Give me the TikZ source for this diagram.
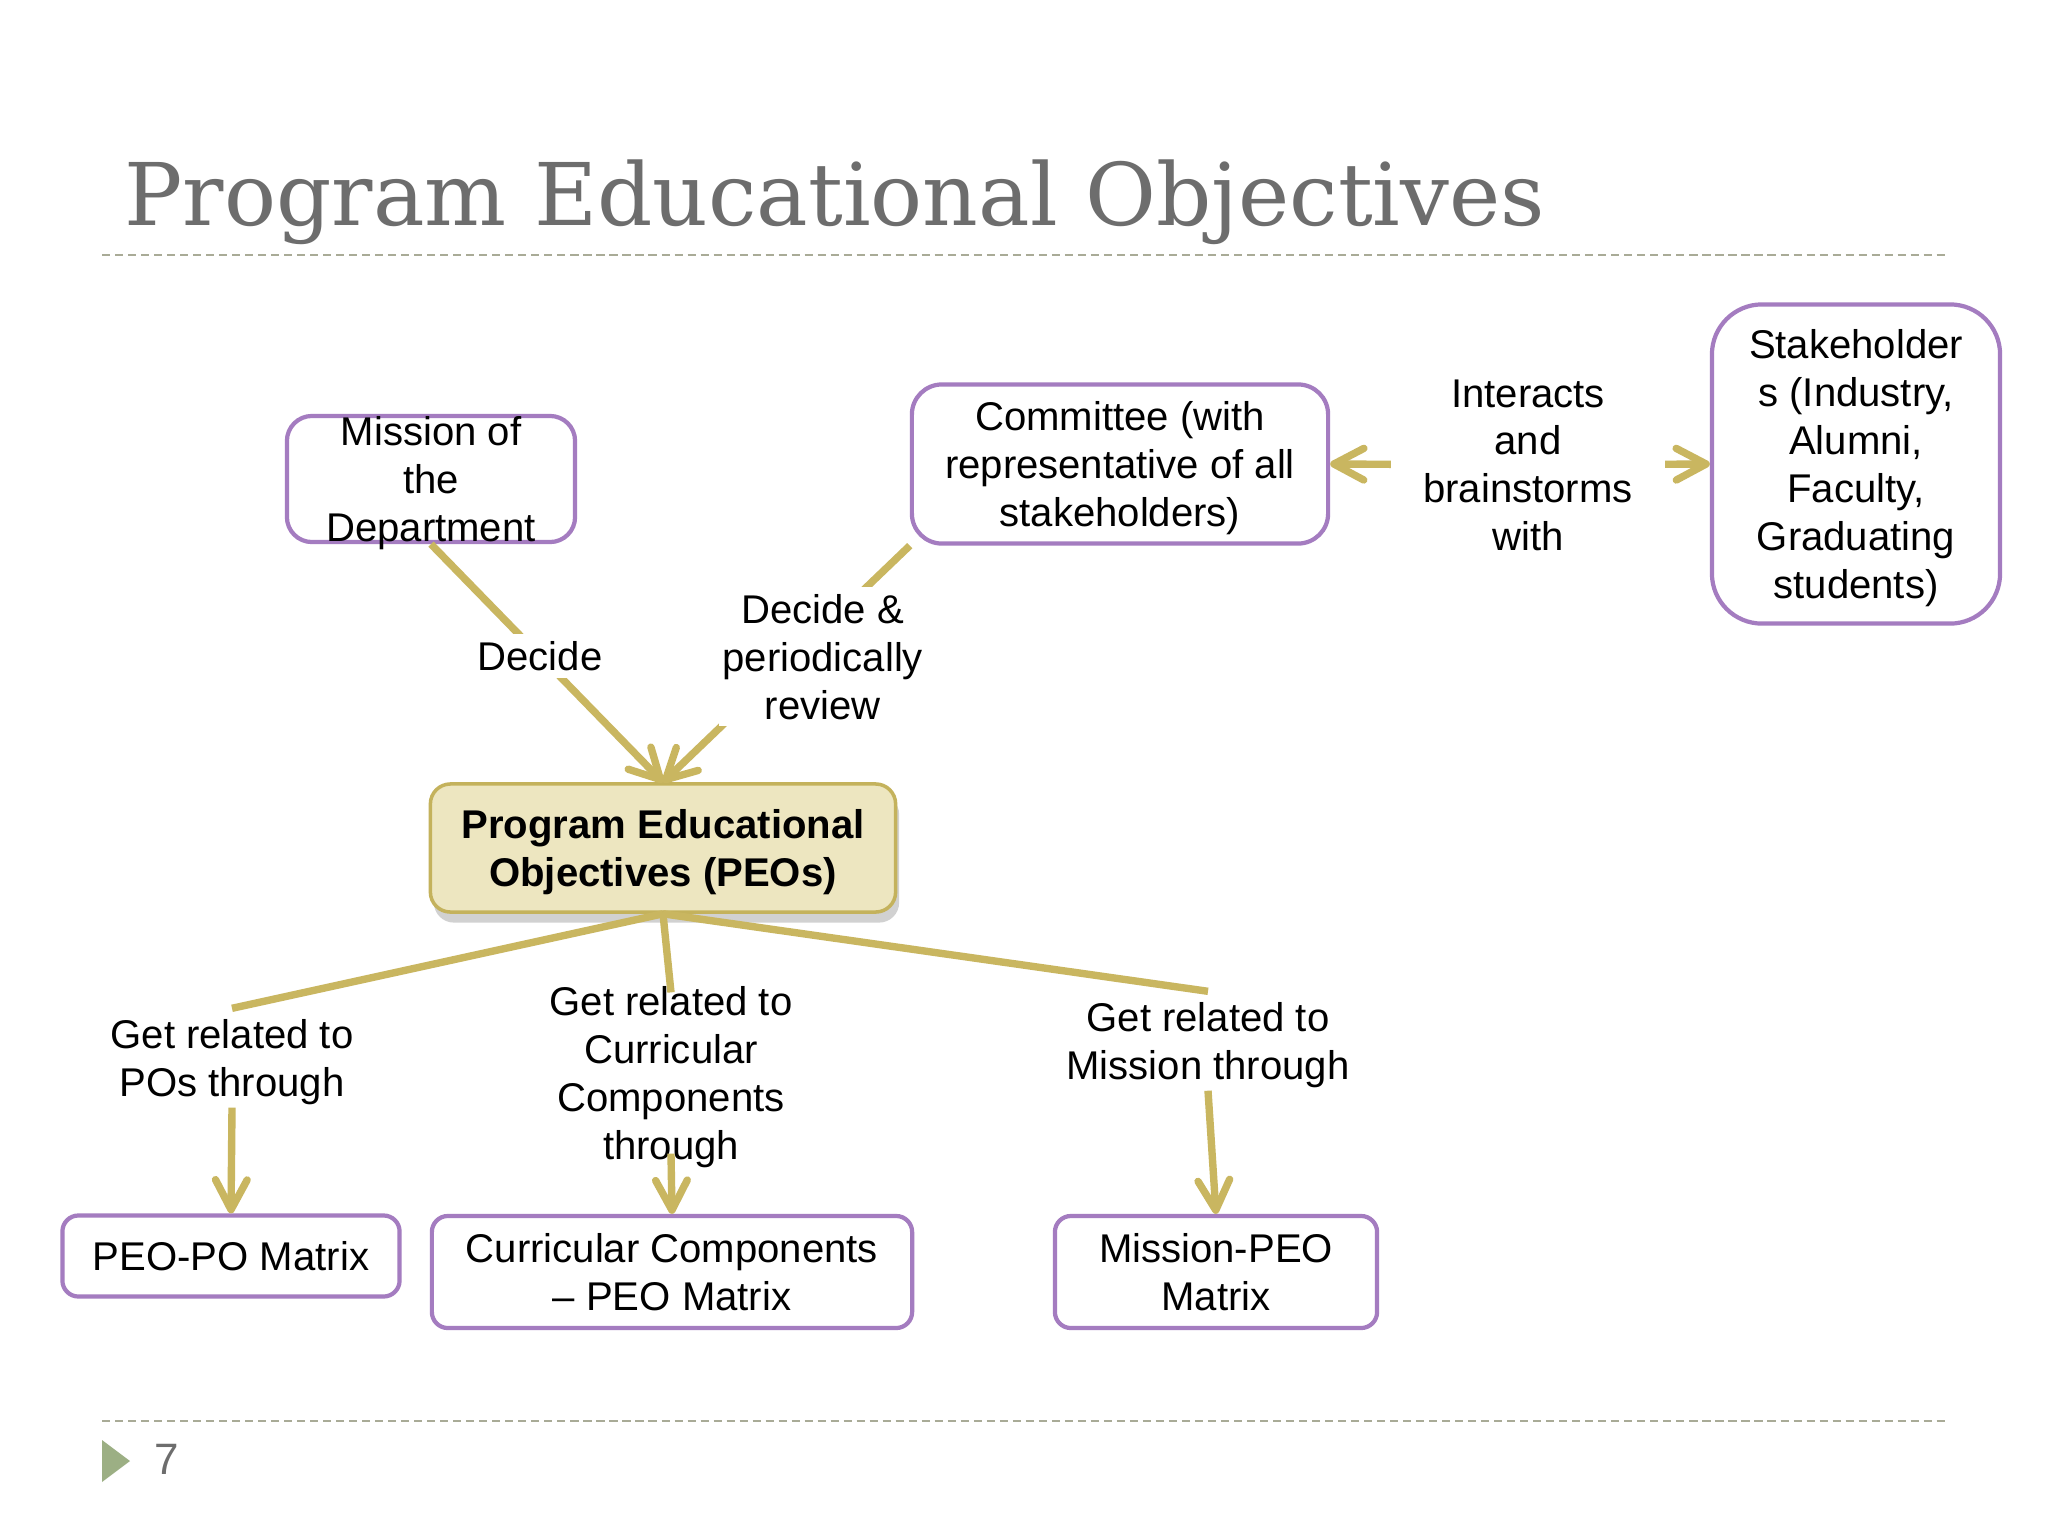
\documentclass[tikz,border=0pt]{standalone}
\usepackage{fontspec}
\setmainfont{Liberation Sans}
\newfontfamily\titlefont{DejaVu Serif}
\usepackage{tikz}
\usetikzlibrary{arrows.meta,shadows}
\definecolor{boxpurple}{RGB}{164,124,192}
\definecolor{linegold}{RGB}{201,182,96}
\definecolor{peofill}{RGB}{237,230,192}
\definecolor{peoedge}{RGB}{196,178,92}
\definecolor{titlegrey}{RGB}{109,109,109}
\definecolor{rulegrey}{RGB}{169,171,151}
\definecolor{bulletgreen}{RGB}{156,175,132}

\begin{document}
\begin{tikzpicture}[x=0.01cm, y=-0.01cm,
    font=\fontsize{11.4}{13.6}\selectfont,
    txt/.style={align=center, text depth=0pt},
    box/.style={txt, draw=boxpurple, line width=1.2pt, rounded corners=0.25cm},
    lbl/.style={txt, inner sep=3pt},
    link/.style={draw=linegold, line width=2.1pt},
    arrow/.style={link, -{Straight Barb[length=8.5pt,width=9pt,round]}},
    rule/.style={draw=rulegrey, line width=0.7pt, dash pattern=on 2.3pt off 1.4pt}]
          \fill[white] (0,0) rectangle (2048,1536);
          \useasboundingbox (0,0) rectangle (2048,1536);

          \node[anchor=base west, inner sep=0, text=titlegrey, font=\titlefont\fontsize{24.6}{30}\selectfont] (title) at (124,225) {Program Educational Objectives};
          \draw[rule] (102,255) -- (1946,255);
          \draw[rule] (102,1421) -- (1946,1421);
          \fill[bulletgreen] (102,1440) -- (102,1482) -- (130,1461) -- cycle;
          \node[text=titlegrey, font=\fontsize{12.5}{15}\selectfont] (pnum) at (167,1459) {7};

          \node[box, inner ysep=0.2pt, minimum width=2.88cm] (mission) at (431,479) {Mission of\\the\\Department};
          \node[box, rounded corners=0.3cm, minimum width=4.16cm, minimum height=1.59cm] (comm) at (1120,464) {Committee (with\\representative of all\\stakeholders)};
          \node[box, rounded corners=0.5cm, minimum width=2.88cm, minimum height=3.19cm] (stake) at (1856,464) {Stakeholder\\s (Industry,\\Alumni,\\Faculty,\\Graduating\\students)};
          \node[txt, draw=peoedge, fill=peofill, line width=1pt, rounded corners=0.2cm, minimum width=4.65cm, minimum height=1.28cm, font=\fontsize{11.4}{13.6}\selectfont\bfseries, drop shadow={shadow xshift=1pt, shadow yshift=-3pt, fill=black!40, opacity=0.45}] (peo) at (663,848) {Program Educational\\Objectives (PEOs)};
          \node[box, rounded corners=0.16cm, minimum width=3.37cm, minimum height=0.81cm] (peopo) at (231,1256) {PEO-PO Matrix};
          \node[box, rounded corners=0.16cm, minimum width=4.80cm, minimum height=1.12cm] (ccpeo) at (672,1272) {Curricular Components\\-- PEO Matrix};
          \node[box, rounded corners=0.16cm, minimum width=3.22cm, minimum height=1.12cm] (mpeo) at (1216,1272) {Mission-PEO\\Matrix};

          \node[lbl, inner xsep=9pt] (inter) at (1528,465) {Interacts\\and\\brainstorms\\with};
          \node[lbl] (polbl) at (232,1058) {Get related to\\POs through};
          \node[lbl, inner ysep=-1.8pt] (cclbl) at (671,1073) {Get related to\\Curricular\\Components\\through};
          \node[lbl] (mlbl) at (1208,1041) {Get related to\\Mission through};

          \draw[arrow] (mission.south) -- node[lbl, fill=white, pos=0.47, inner ysep=2pt] (dec) {Decide} (peo.north);
          \draw[arrow] (comm.south west) -- node[lbl, fill=white, pos=0.47, xshift=0.29cm, inner xsep=1pt, inner ysep=2pt] (decrev) {Decide \&\\periodically\\review} (peo.north);
          \draw[arrow] (inter) -- (comm.east);
          \draw[arrow] (inter) -- (stake.west);

          \draw[link] (peo.south) -- (polbl.north);
          \draw[link] (peo.south) -- (cclbl.north);
          \draw[link] (peo.south) -- (mlbl.north);
          \draw[arrow] (polbl.south) -- (peopo.north);
          \draw[arrow] (cclbl.south) -- (ccpeo.north);
          \draw[arrow] (mlbl.south) -- (mpeo.north);
        \end{tikzpicture}
\end{document}
